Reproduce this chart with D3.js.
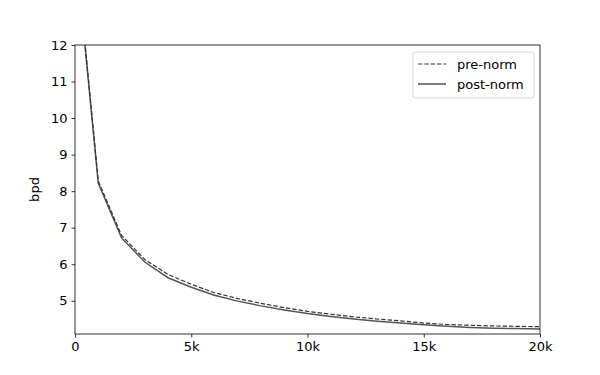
<!DOCTYPE html>
<html><head><meta charset="utf-8">
<script src="https://cdn.jsdelivr.net/npm/d3@7"></script>
<style>body{margin:0;background:#fff}svg{font-family:"DejaVu Sans",sans-serif}</style>
</head><body><svg id="c" width="600" height="375"></svg>
<script>
const steps = [0,1000,2000,3000,4000,5000,6000,7000,8000,9000,10000,11000,12000,13000,14000,15000,16000,17000,18000,19000,20000];
const preNorm  = [14.9,8.28,6.79,6.13,5.72,5.45,5.22,5.06,4.93,4.81,4.71,4.63,4.56,4.50,4.45,4.39,4.35,4.33,4.31,4.30,4.29];
const postNorm = [14.8,8.22,6.72,6.06,5.63,5.37,5.15,4.99,4.86,4.75,4.65,4.57,4.50,4.44,4.39,4.34,4.30,4.27,4.25,4.24,4.23];
const xTicks = [0,5000,10000,15000,20000];
const xTickLabels = ["0","5k","10k","15k","20k"];
const yTicks = [5,6,7,8,9,10,11,12];
const seriesNames = ["pre-norm","post-norm"];

const svg = d3.select("#c");
const L=75,R=540,T=45,B=334;
const x = d3.scaleLinear().domain([0,20000]).range([L,R]);
const y = d3.scaleLinear().domain([4.09,12]).range([B,T]);

svg.append("clipPath").attr("id","clip").append("rect").attr("x",L).attr("y",T).attr("width",R-L).attr("height",B-T);

const line = d3.line().x((d,i)=>x(steps[i])).y(d=>y(d));
const g = svg.append("g").attr("clip-path","url(#clip)");
g.append("path").attr("d",line(postNorm)).attr("fill","none").attr("stroke","#555").attr("stroke-width",1.5);
g.append("path").attr("d",line(preNorm)).attr("fill","none").attr("stroke","#333").attr("stroke-width",1.2).attr("stroke-dasharray","4.4,2");

const xa = svg.append("g").attr("transform",`translate(0,${B})`)
  .call(d3.axisBottom(x).tickValues(xTicks).tickFormat((d,i)=>xTickLabels[i]).tickSize(3.5).tickPadding(4));
const ya = svg.append("g").attr("transform",`translate(${L},0)`)
  .call(d3.axisLeft(y).tickValues(yTicks).tickSize(3.5).tickPadding(4));
[xa,ya].forEach(a=>{a.select(".domain").remove();a.selectAll("text").attr("font-size",13).attr("fill","#000").attr("font-family","DejaVu Sans");a.selectAll("line").attr("stroke","#000").attr("stroke-width",0.8);});

svg.append("rect").attr("x",L).attr("y",T).attr("width",R-L).attr("height",B-T).attr("fill","none").attr("stroke","#000").attr("stroke-width",0.8);

svg.append("text").attr("transform",`translate(39,${(T+B)/2}) rotate(-90)`).attr("text-anchor","middle").attr("font-size",13).text("bpd");

const lg = svg.append("g");
lg.append("rect").attr("x",413).attr("y",52).attr("width",121).attr("height",46).attr("rx",2.5).attr("fill","#fff").attr("fill-opacity",0.8).attr("stroke","#ccc").attr("stroke-width",0.8);
lg.append("line").attr("x1",418).attr("x2",446).attr("y1",64).attr("y2",64).attr("stroke","#333").attr("stroke-width",1.2).attr("stroke-dasharray","4.4,2");
lg.append("line").attr("x1",418).attr("x2",446).attr("y1",84).attr("y2",84).attr("stroke","#555").attr("stroke-width",1.5);
lg.append("text").attr("x",457).attr("y",69).attr("font-size",13).text(seriesNames[0]);
lg.append("text").attr("x",457).attr("y",89).attr("font-size",13).text(seriesNames[1]);
</script></body></html>
